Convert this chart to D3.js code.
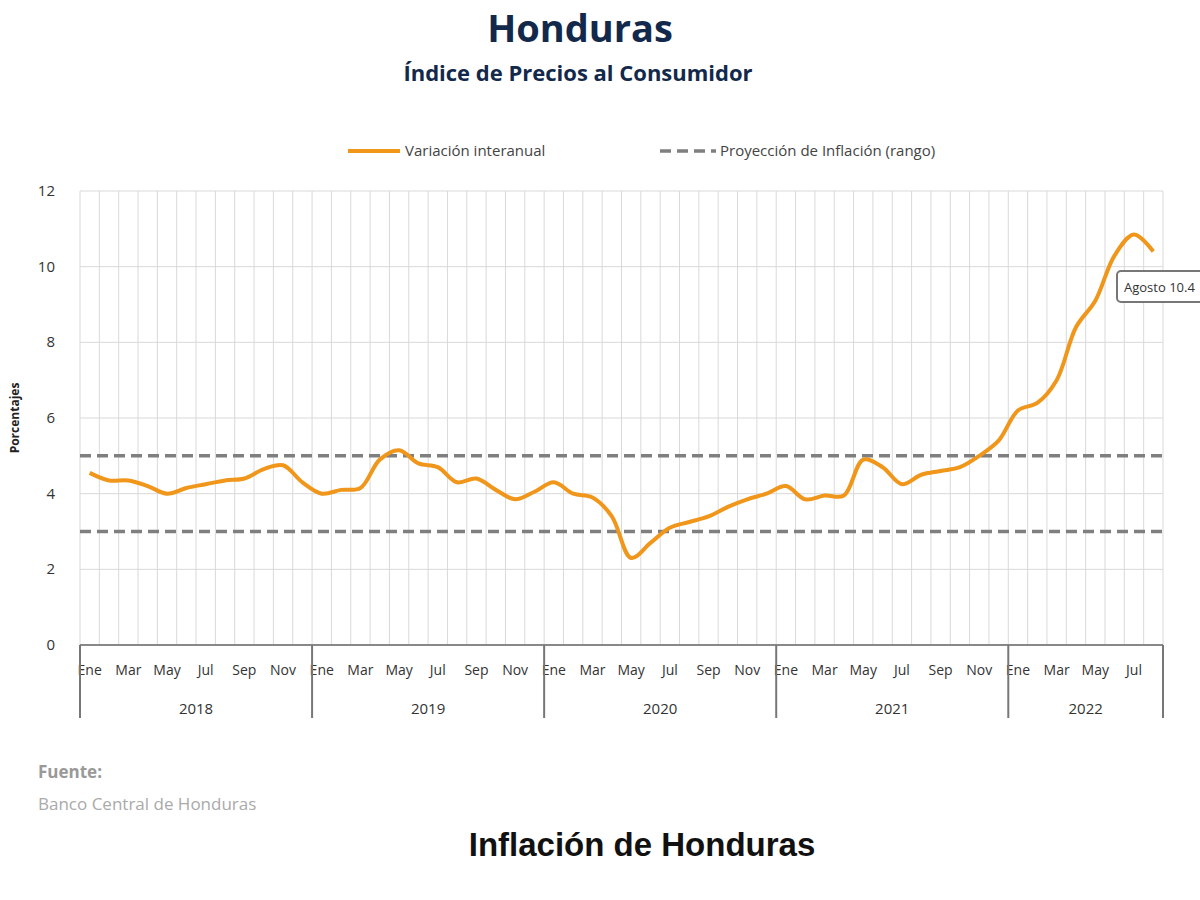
<!DOCTYPE html><html><head><meta charset="utf-8"><script src="https://cdn.jsdelivr.net/npm/d3@7"></script>
<style>body{margin:0;background:#fff;font-family:"Open Sans",sans-serif}</style></head><body><svg id="c" width="1200" height="900"></svg>
<script>
const years=["2018","2019","2020","2021","2022"];
const monthNames=["Ene","Feb","Mar","Abr","May","Jun","Jul","Ago","Sep","Oct","Nov","Dic"];
const tickMonths=["Ene","Mar","May","Jul","Sep","Nov"];
const values=[
4.55,4.35,4.35,4.2,4.0,4.15,4.25,4.35,4.4,4.65,4.75,4.3,
4.0,4.1,4.15,4.9,5.15,4.8,4.7,4.3,4.4,4.1,3.85,4.05,
4.3,4.0,3.9,3.4,2.3,2.7,3.1,3.25,3.4,3.65,3.85,4.0,
4.2,3.85,3.95,3.95,4.9,4.7,4.25,4.5,4.6,4.7,5.0,5.4,
6.2,6.4,7.0,8.4,9.1,10.3,10.85,10.4];
const rangeLow=3, rangeHigh=5;
const yTicks=[0,2,4,6,8,10,12];
const lastLabel="Agosto 10.4";

const svg=d3.select("#c");
const L=80,R=1163,T=191,B=645;
const idx=d3.range(values.length);
const x=d3.scaleBand().domain(idx).range([L,R]);
const y=d3.scaleLinear().domain([0,12]).range([B,T]);
const cx=i=>x(i)+x.bandwidth()/2;

svg.append("text").attr("x",580).attr("y",42).attr("text-anchor","middle").attr("font-size",38).attr("font-weight",700).attr("fill","#13294b").text("Honduras");
svg.append("text").attr("x",578).attr("y",81).attr("text-anchor","middle").attr("font-size",22).attr("font-weight",700).attr("fill","#13294b").text("Índice de Precios al Consumidor");

idx.forEach(i=>svg.append("line").attr("x1",x(i)).attr("x2",x(i)).attr("y1",T).attr("y2",B).attr("stroke","#d9d9d9"));
svg.append("line").attr("x1",R).attr("x2",R).attr("y1",T).attr("y2",B).attr("stroke","#d9d9d9");
yTicks.forEach(t=>{
 svg.append("line").attr("x1",L).attr("x2",R).attr("y1",y(t)).attr("y2",y(t)).attr("stroke","#d9d9d9");
 svg.append("text").attr("x",55).attr("y",y(t)+5).attr("text-anchor","end").attr("font-size",15).attr("fill","#333").text(t);
});
svg.append("line").attr("x1",L).attr("x2",R).attr("y1",B).attr("y2",B).attr("stroke","#888").attr("stroke-width",2);
[rangeLow,rangeHigh].forEach(v=>svg.append("line").attr("x1",L).attr("x2",R).attr("y1",y(v)).attr("y2",y(v)).attr("stroke","#7f7f7f").attr("stroke-width",3.5).attr("stroke-dasharray","11,6"));
svg.append("path").datum(values).attr("fill","none").attr("stroke","#f0961a").attr("stroke-width",4)
 .attr("d",d3.line().x((d,i)=>cx(i)).y(d=>y(d)).curve(d3.curveCatmullRom));
idx.forEach(i=>{const m=monthNames[i%12]; if(tickMonths.includes(m))
 svg.append("text").attr("x",cx(i)).attr("y",675).attr("text-anchor","middle").attr("font-size",14).attr("fill","#333").text(m);});
years.forEach((yr,k)=>{
 const a=x(k*12), b=k<years.length-1?x((k+1)*12):R;
 svg.append("line").attr("x1",a).attr("x2",a).attr("y1",B).attr("y2",718).attr("stroke","#777").attr("stroke-width",2);
 svg.append("text").attr("x",(a+b)/2).attr("y",714).attr("text-anchor","middle").attr("font-size",15).attr("fill","#333").text(yr);
});
svg.append("line").attr("x1",R).attr("x2",R).attr("y1",B).attr("y2",718).attr("stroke","#777").attr("stroke-width",2);
svg.append("text").attr("transform","translate(19,418) rotate(-90)").attr("text-anchor","middle").attr("font-size",12).attr("font-weight",700).attr("fill","#222").text("Porcentajes");
svg.append("line").attr("x1",348).attr("x2",400).attr("y1",151).attr("y2",151).attr("stroke","#f0961a").attr("stroke-width",4);
svg.append("text").attr("x",405).attr("y",156).attr("font-size",15).attr("fill","#444").text("Variación interanual");
svg.append("line").attr("x1",660).attr("x2",716).attr("y1",151).attr("y2",151).attr("stroke","#7f7f7f").attr("stroke-width",3.5).attr("stroke-dasharray","11,6");
svg.append("text").attr("x",720).attr("y",156).attr("font-size",15).attr("fill","#444").text("Proyección de Inflación (rango)");
svg.append("rect").attr("x",1117).attr("y",271).attr("width",100).attr("height",31).attr("rx",4).attr("fill","#fff").attr("stroke","#777").attr("stroke-width",2);
svg.append("text").attr("x",1124).attr("y",292).attr("font-size",13).attr("fill","#333").text(lastLabel);
svg.append("text").attr("x",38).attr("y",778).attr("font-size",17).attr("font-weight",700).attr("fill","#999").text("Fuente:");
svg.append("text").attr("x",38).attr("y",810).attr("font-size",17).attr("fill","#aaa").text("Banco Central de Honduras");
svg.append("text").attr("x",642).attr("y",856).attr("text-anchor","middle").attr("font-size",33).attr("font-weight",700).attr("font-family","'Liberation Sans',Arial,sans-serif").attr("fill","#111").text("Inflación de Honduras");
</script></body></html>
